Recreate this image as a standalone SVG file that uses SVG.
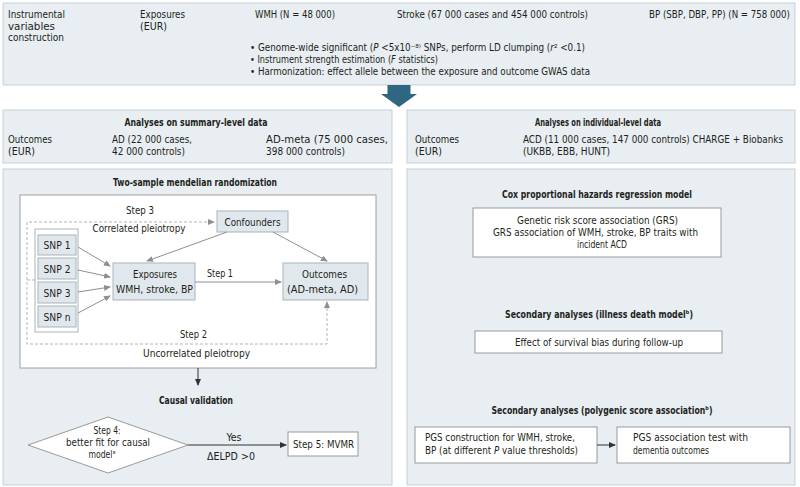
<svg xmlns="http://www.w3.org/2000/svg" width="800" height="487" viewBox="0 0 800 487">
<defs>
<style>
text{font-family:"DejaVu Sans Condensed","Liberation Sans Narrow","Liberation Sans",sans-serif;font-size:10.2px;fill:#231f20}
.b{font-weight:bold}
.m{text-anchor:middle}
.s{font-size:9.6px}
.bl{font-size:9.9px}
.panel{fill:#e8eef2;stroke:#c6cfd6;stroke-width:1}
.node{fill:#e1e8ed;stroke:#a9b3ba;stroke-width:1}
.wbox{fill:#fff;stroke:#9a9a9a;stroke-width:1}
.ln{fill:none;stroke:#8f8f8f;stroke-width:1}
.dash{fill:none;stroke:#b4b4b4;stroke-width:1;stroke-dasharray:3 2}
.blk{fill:none;stroke:#333;stroke-width:1}
</style>
<marker id="ah" markerWidth="7" markerHeight="6" refX="6" refY="3" orient="auto" markerUnits="userSpaceOnUse">
<path d="M0,0 L7,3 L0,6 Z" fill="#8f8f8f"/>
</marker>
<marker id="ahk" markerWidth="7" markerHeight="6" refX="6" refY="3" orient="auto" markerUnits="userSpaceOnUse">
<path d="M0,0 L7,3 L0,6 Z" fill="#333"/>
</marker>
</defs>
<rect width="800" height="487" fill="#fff"/>

<g id="iv-construction">
<rect class="panel" x="3" y="3" width="792" height="82"/>
<text x="8" y="18" textLength="57" lengthAdjust="spacingAndGlyphs">Instrumental</text>
<text x="8" y="29.5" textLength="47" lengthAdjust="spacingAndGlyphs">variables</text>
<text x="8" y="41" textLength="56" lengthAdjust="spacingAndGlyphs">construction</text>
<text x="140" y="18" textLength="45" lengthAdjust="spacingAndGlyphs">Exposures</text>
<text x="140" y="29.5" textLength="27" lengthAdjust="spacingAndGlyphs">(EUR)</text>
<text x="255" y="18" textLength="80" lengthAdjust="spacingAndGlyphs">WMH (N = 48 000)</text>
<text x="397" y="18" textLength="191" lengthAdjust="spacingAndGlyphs">Stroke (67 000 cases and 454 000 controls)</text>
<text class="s" x="649" y="18" textLength="141" lengthAdjust="spacingAndGlyphs">BP (SBP, DBP, PP) (N = 758 000)</text>
<text class="bl" x="250" y="51" textLength="335" lengthAdjust="spacingAndGlyphs">• Genome-wide significant (<tspan font-style="italic">P</tspan> &lt;5x10⁻⁸⁾ SNPs, perform LD clumping (<tspan font-style="italic">r</tspan>² &lt;0.1)</text>
<text x="250" y="63" textLength="188" lengthAdjust="spacingAndGlyphs">• Instrument strength estimation (<tspan font-style="italic">F</tspan> statistics)</text>
<text class="bl" x="250" y="75" textLength="340" lengthAdjust="spacingAndGlyphs">• Harmonization: effect allele between the exposure and outcome GWAS data</text>
</g>

<g id="main-arrow">
<path d="M387.5,85 H410.5 V94 H417 L399,107 L381,94 H387.5 Z" fill="#2f6682"/>
</g>

<g id="summary-header">
<rect class="panel" x="3" y="110" width="389" height="53"/>
<text class="b m" x="196" y="126" textLength="143" lengthAdjust="spacingAndGlyphs">Analyses on summary-level data</text>
<text x="8" y="143" textLength="44" lengthAdjust="spacingAndGlyphs">Outcomes</text>
<text x="8" y="155" textLength="27" lengthAdjust="spacingAndGlyphs">(EUR)</text>
<text x="112" y="143" textLength="80" lengthAdjust="spacingAndGlyphs">AD (22 000 cases,</text>
<text x="112" y="155" textLength="73" lengthAdjust="spacingAndGlyphs">42 000 controls)</text>
<text x="266" y="143" textLength="122" lengthAdjust="spacingAndGlyphs">AD-meta (75 000 cases,</text>
<text x="266" y="155" textLength="79" lengthAdjust="spacingAndGlyphs">398 000 controls)</text>
</g>

<g id="individual-header">
<rect class="panel" x="407" y="110" width="388" height="53"/>
<text class="b m" x="598" y="126" textLength="126" lengthAdjust="spacingAndGlyphs">Analyses on individual-level data</text>
<text x="415" y="143" textLength="44" lengthAdjust="spacingAndGlyphs">Outcomes</text>
<text x="415" y="155" textLength="27" lengthAdjust="spacingAndGlyphs">(EUR)</text>
<text class="s" x="523" y="143" textLength="260" lengthAdjust="spacingAndGlyphs">ACD (11 000 cases, 147 000 controls) CHARGE + Biobanks</text>
<text x="523" y="155" textLength="87" lengthAdjust="spacingAndGlyphs">(UKBB, EBB, HUNT)</text>
</g>

<g id="summary-panel">
<rect class="panel" x="3" y="169" width="389" height="316"/>
<text class="b m" x="195" y="186" textLength="164" lengthAdjust="spacingAndGlyphs">Two-sample mendelian randomization</text>
<rect x="20" y="195" width="356" height="173" fill="#fff" stroke="#a0a0a0"/>
</g>

<g id="snp-group">
<rect x="35" y="229" width="43" height="103" fill="#fff" stroke="#a9b3ba"/>
</g>
<g id="snp1"><rect class="node" x="38" y="235" width="38" height="20"/><text class="m" x="57" y="249" textLength="27" lengthAdjust="spacingAndGlyphs">SNP 1</text></g>
<g id="snp2"><rect class="node" x="38" y="258" width="38" height="21"/><text class="m" x="57" y="272.5" textLength="27" lengthAdjust="spacingAndGlyphs">SNP 2</text></g>
<g id="snp3"><rect class="node" x="38" y="282" width="38" height="21"/><text class="m" x="57" y="296.5" textLength="27" lengthAdjust="spacingAndGlyphs">SNP 3</text></g>
<g id="snpn"><rect class="node" x="38" y="306" width="38" height="21"/><text class="m" x="57" y="320.5" textLength="27" lengthAdjust="spacingAndGlyphs">SNP n</text></g>

<g id="confounders"><rect class="node" x="217" y="211" width="71" height="21"/><text class="m" x="252.5" y="225.5" textLength="56" lengthAdjust="spacingAndGlyphs">Confounders</text></g>
<g id="exposures"><rect class="node" x="113" y="263" width="82" height="37"/><text class="m" x="155" y="278" textLength="44" lengthAdjust="spacingAndGlyphs">Exposures</text><text class="m" x="154.5" y="293" textLength="77" lengthAdjust="spacingAndGlyphs">WMH, stroke, BP</text></g>
<g id="outcomes"><rect class="node" x="283" y="263" width="85" height="37"/><text class="m" x="324.5" y="278" textLength="45" lengthAdjust="spacingAndGlyphs">Outcomes</text><text class="m" x="322.5" y="293" textLength="71" lengthAdjust="spacingAndGlyphs">(AD-meta, AD)</text></g>

<g id="causal-validation"><text class="b m" x="196" y="404" textLength="74" lengthAdjust="spacingAndGlyphs">Causal validation</text></g>
<g id="step4"><path d="M28,445 L108,417 L188,445 L108,473 Z" fill="#fff" stroke="#9a9a9a"/>
<text class="m" x="107" y="434" textLength="27" lengthAdjust="spacingAndGlyphs">Step 4:</text>
<text class="m" x="108" y="446" textLength="84" lengthAdjust="spacingAndGlyphs">better fit for causal</text>
<text class="m" x="102" y="458" textLength="27" lengthAdjust="spacingAndGlyphs">modelᵃ</text></g>
<g id="step5"><rect class="wbox" x="288" y="432" width="70" height="24"/><text class="m" x="323.5" y="448" textLength="61" lengthAdjust="spacingAndGlyphs">Step 5: MVMR</text></g>

<g id="individual-panel">
<rect class="panel" x="407" y="169" width="388" height="316"/>
<text class="b m" x="597" y="198" textLength="190" lengthAdjust="spacingAndGlyphs">Cox proportional hazards regression model</text>
<text class="b m" x="599" y="318" textLength="188" lengthAdjust="spacingAndGlyphs">Secondary analyses (illness death modelᵇ)</text>
<text class="b m" x="602" y="414" textLength="221" lengthAdjust="spacingAndGlyphs">Secondary analyses (polygenic score associationᵇ)</text>
</g>
<g id="grs"><rect class="wbox" x="473" y="208" width="248" height="49"/>
<text class="m" x="597.5" y="224" textLength="161" lengthAdjust="spacingAndGlyphs">Genetic risk score association (GRS)</text>
<text class="m" x="595.5" y="236" textLength="205" lengthAdjust="spacingAndGlyphs">GRS association of WMH, stroke, BP traits with</text>
<text class="m" x="602" y="248" textLength="50" lengthAdjust="spacingAndGlyphs">incident ACD</text></g>
<g id="survival"><rect class="wbox" x="475" y="331" width="247" height="22"/>
<text class="m" x="599" y="346" textLength="168" lengthAdjust="spacingAndGlyphs">Effect of survival bias during follow-up</text></g>
<g id="pgs-construction"><rect class="wbox" x="415" y="427" width="182" height="36"/>
<text x="425" y="441" textLength="150" lengthAdjust="spacingAndGlyphs">PGS construction for WMH, stroke,</text>
<text x="425" y="454" textLength="153" lengthAdjust="spacingAndGlyphs">BP (at different <tspan font-style="italic">P</tspan> value thresholds)</text></g>
<g id="pgs-test"><rect class="wbox" x="617" y="427" width="173" height="36"/>
<text x="633" y="441" textLength="115" lengthAdjust="spacingAndGlyphs">PGS association test with</text>
<text x="633" y="454" textLength="76" lengthAdjust="spacingAndGlyphs">dementia outcomes</text></g>

<g id="connectors">
<line class="ln" x1="78" y1="247" x2="110" y2="266" marker-end="url(#ah)"/>
<line class="ln" x1="78" y1="270" x2="110" y2="277" marker-end="url(#ah)"/>
<line class="ln" x1="78" y1="292" x2="110" y2="287" marker-end="url(#ah)"/>
<line class="ln" x1="78" y1="313" x2="110" y2="296" marker-end="url(#ah)"/>
<line class="ln" x1="195" y1="282" x2="281" y2="282" marker-end="url(#ah)"/>
<line class="ln" x1="227" y1="232" x2="147" y2="261" marker-end="url(#ah)"/>
<line class="ln" x1="273" y1="232" x2="327" y2="261" marker-end="url(#ah)"/>
<path class="dash" d="M27,280 V222 H214" marker-end="url(#ah)"/>
<path class="dash" d="M35,280 H27 V344 H327 V302" marker-end="url(#ah)"/>
<text class="m" x="140" y="214" textLength="28" lengthAdjust="spacingAndGlyphs">Step 3</text>
<text class="m" x="139" y="232" textLength="93" lengthAdjust="spacingAndGlyphs">Correlated pleiotropy</text>
<text class="m" x="220" y="277" textLength="26" lengthAdjust="spacingAndGlyphs">Step 1</text>
<text class="m" x="193.5" y="338" textLength="27" lengthAdjust="spacingAndGlyphs">Step 2</text>
<text class="m" x="196.5" y="357" textLength="107" lengthAdjust="spacingAndGlyphs">Uncorrelated pleiotropy</text>
<line class="blk" x1="198" y1="368" x2="198" y2="385" marker-end="url(#ahk)"/>
<line class="blk" x1="188" y1="445" x2="286" y2="445" marker-end="url(#ahk)"/>
<text class="m" x="234" y="441" textLength="15" lengthAdjust="spacingAndGlyphs">Yes</text>
<text class="m" x="231" y="460" textLength="48" lengthAdjust="spacingAndGlyphs">ΔELPD &gt;0</text>
<line class="blk" x1="597" y1="445" x2="615" y2="445" marker-end="url(#ahk)"/>
</g>
</svg>
